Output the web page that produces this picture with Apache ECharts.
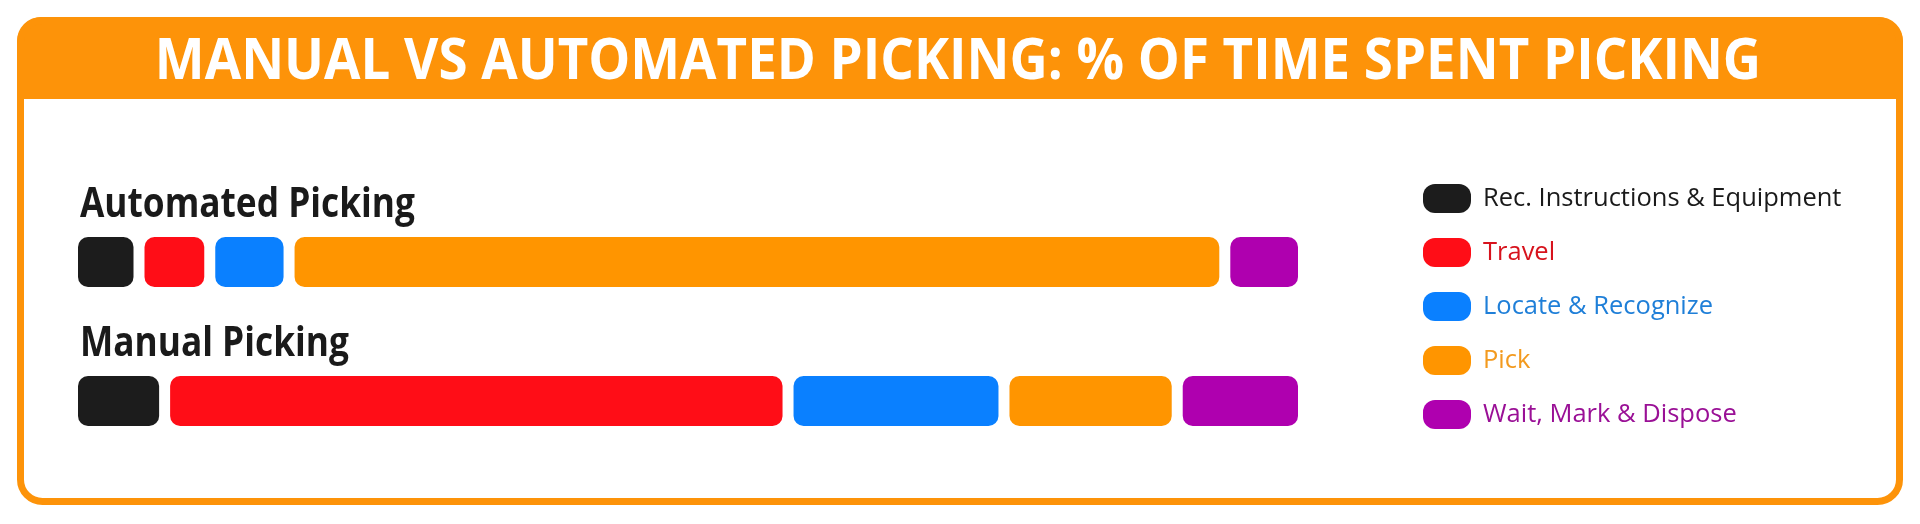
<!DOCTYPE html>
<html>
<head>
<meta charset="utf-8">
<script src="https://cdn.jsdelivr.net/npm/echarts@6/dist/echarts.min.js"></script>
<style>
html,body{margin:0;padding:0;background:#fff;}
#chart{width:1920px;height:524px;}
</style>
</head>
<body>
<div id="chart"></div>
<script>
// ---- data ----
var titleText = 'MANUAL VS AUTOMATED PICKING: % OF TIME SPENT PICKING';
var categories = ['Automated Picking', 'Manual Picking'];
var segmentNames = ['Rec. Instructions & Equipment', 'Travel', 'Locate & Recognize', 'Pick', 'Wait, Mark & Dispose'];
var automatedValues = [5.0, 5.8, 6.5, 76.7, 6.0];
var manualValues = [7.1, 51.1, 17.7, 14.2, 9.9];

// ---- styles ----
var barColors = ['#1c1c1c', '#ff0d17', '#0a80ff', '#ff9500', '#af00af'];
var legendTextColors = ['#1a1a1a', '#d7131d', '#1f7fd8', '#f39a1e', '#9a1096'];
var frameOrange = '#fd9309';
var FONT = '"Open Sans", "Noto Sans", sans-serif';
var GAP = 11;
var BAR_H = 50;

var rows = [automatedValues, manualValues];

function makeSeriesData(segIdx) {
  return rows.map(function (vals, r) {
    var start = 0;
    for (var k = 0; k < segIdx; k++) start += vals[k];
    return [r, start, start + vals[segIdx]];
  });
}

var series = segmentNames.map(function (name, i) {
  return {
    type: 'custom',
    name: name,
    itemStyle: { color: barColors[i] },
    encode: { x: [1, 2], y: 0 },
    data: makeSeriesData(i),
    renderItem: function (params, api) {
      var cat = api.value(0), s = api.value(1), e = api.value(2);
      var p0 = api.coord([s, cat]);
      var p1 = api.coord([e, cat]);
      var first = s <= 1e-9;
      var last = i === segmentNames.length - 1;
      var x0 = p0[0] + (first ? 0 : GAP / 2);
      var x1 = p1[0] - (last ? 0 : GAP / 2);
      return {
        type: 'rect',
        shape: { x: x0, y: p0[1] - BAR_H / 2, width: x1 - x0, height: BAR_H, r: 10 },
        style: { fill: barColors[i] }
      };
    }
  };
});

// row labels above each bar
series.push({
  type: 'custom',
  name: 'rowLabels',
  silent: true,
  encode: { x: 1, y: 0 },
  data: categories.map(function (c, r) { return [r, 0]; }),
  renderItem: function (params, api) {
    var cat = api.value(0);
    var p = api.coord([0, cat]);
    return {
      type: 'text',
      x: p[0] + 2,
      y: p[1] - BAR_H / 2 - 11,
      scaleX: 0.86,
      style: {
        text: categories[cat],
        x: 0,
        y: 0,
        align: 'left',
        verticalAlign: 'bottom',
        fill: '#1a1a1a',
        font: 'bold 41px ' + FONT
      }
    };
  }
});

var roundIcon = 'path://M12,0 H36 A12,12 0 0 1 48,12 V17 A12,12 0 0 1 36,29 H12 A12,12 0 0 1 0,17 V12 A12,12 0 0 1 12,0 Z';

var chart = echarts.init(document.getElementById('chart'), null, { renderer: 'canvas' });
chart.setOption({
  backgroundColor: '#ffffff',
  animation: false,
  graphic: [
    {
      type: 'rect', z: -10,
      shape: { x: 17, y: 17, width: 1886, height: 82, r: [24, 24, 0, 0] },
      style: { fill: frameOrange }
    },
    {
      type: 'rect', z: -9,
      shape: { x: 20.5, y: 20.5, width: 1879, height: 481, r: 22 },
      style: { fill: null, stroke: frameOrange, lineWidth: 7 }
    },
    {
      type: 'text', z: 10,
      x: 958, y: 62,
      scaleX: 0.911,
      style: {
        text: titleText,
        x: 0, y: 0,
        align: 'center',
        verticalAlign: 'middle',
        fill: '#ffffff',
        font: 'bold 58px ' + FONT
      }
    }
  ],
  legend: {
    orient: 'vertical',
    left: 1418,
    top: 179,
    itemWidth: 48,
    itemHeight: 29,
    itemGap: 25,
    icon: roundIcon,
    textStyle: { fontSize: 25.5, fontFamily: FONT, padding: [0, 0, 0, 7] },
    data: segmentNames.map(function (n, i) {
      return { name: n, textStyle: { color: legendTextColors[i] } };
    })
  },
  grid: { left: 78, right: 622, top: 192.5, height: 278, containLabel: false },
  xAxis: {
    type: 'value', min: 0, max: 100, show: false
  },
  yAxis: {
    type: 'category', data: categories, inverse: true, show: false
  },
  series: series
});
</script>
</body>
</html>
